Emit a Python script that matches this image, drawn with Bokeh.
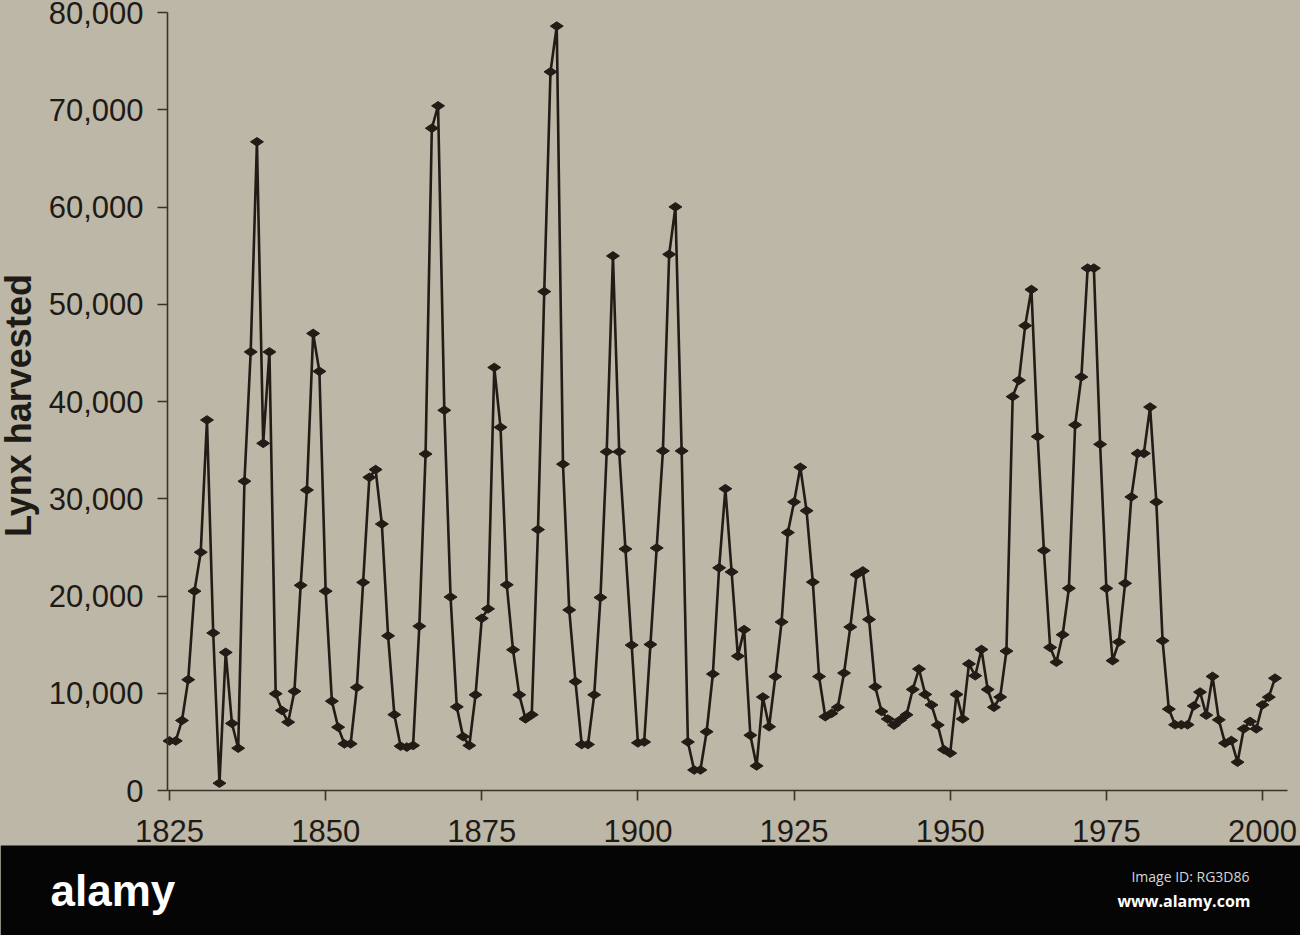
import numpy as np
from bokeh.plotting import figure
from bokeh.models import (FixedTicker, NumeralTickFormatter, Range1d, ColumnDataSource,
                          BasicTickFormatter, BoxAnnotation, Label)
from bokeh.embed import file_html
from bokeh.resources import INLINE

# ---------------- data ----------------
years = list(range(1825, 2003))
lynx_harvested = [
    5100, 5100, 7200, 11400, 20500, 24500, 38100, 16200, 750, 14200,      # 1825-1834
    6900, 4350, 31800, 45100, 66700, 35700, 45100, 9950, 8230, 7030,      # 1835-1844
    10200, 21100, 30900, 47000, 43100, 20500, 9190, 6510, 4800, 4800,     # 1845-1854
    10600, 21400, 32200, 33000, 27400, 15900, 7800, 4560, 4460, 4630,     # 1855-1864
    16900, 34600, 68100, 70400, 39100, 19900, 8600, 5540, 4630, 9840,     # 1865-1874
    17700, 18680, 43500, 37350, 21150, 14470, 9840, 7370, 7790, 26830,    # 1875-1884
    51300, 73900, 78600, 33560, 18570, 11200, 4730, 4730, 9840, 19850,    # 1885-1894
    34830, 54970, 34830, 24830, 14950, 4900, 4990, 15020, 24940, 34920,   # 1895-1904
    55130, 60010, 34920, 4990, 2110, 2110, 6040, 11980, 22900, 31030,     # 1905-1914
    22480, 13820, 16540, 5680, 2530, 9610, 6560, 11720, 17330, 26520,     # 1915-1924
    29670, 33240, 28770, 21430, 11720, 7590, 7930, 8560, 12080, 16810,    # 1925-1934
    22200, 22580, 17590, 10660, 8130, 7350, 6730, 7250, 7780, 10390,      # 1935-1944
    12500, 9880, 8800, 6730, 4200, 3840, 9880, 7360, 13020, 11800,        # 1945-1954
    14500, 10390, 8560, 9610, 14340, 40500, 42180, 47800, 51510, 36390,   # 1955-1964
    24680, 14710, 13190, 16020, 20790, 37590, 42530, 53710, 53710, 35600, # 1965-1974
    20790, 13350, 15270, 21300, 30190, 34660, 34660, 39430, 29670, 15400, # 1975-1984
    8370, 6760, 6760, 6760, 8700, 10120, 7750, 11730, 7270, 4870,         # 1985-1994
    5140, 2910, 6340, 7100, 6340, 8810, 9600, 11550,                      # 1995-2002
]
x_ticks = [1825, 1850, 1875, 1900, 1925, 1950, 1975, 2000]
y_ticks = [0, 10000, 20000, 30000, 40000, 50000, 60000, 70000, 80000]
y_label = "Lynx harvested"

BG = "#bdb7a7"
INK = "#221b16"
AX = "#38322b"
TXT = "#1e1a16"
FONT = "Liberation Sans"

# plot-area geometry (pixels) and the data span of the axes
W, H = 1300, 935
FL, FR, FT, FB = 167, 1287, 12, 790
X0, X1 = 1824.68, 2004.0
Y0, Y1 = 0, 80000


def dx(px):
    return X0 + (px - FL) * (X1 - X0) / (FR - FL)


def dy(py):
    return Y0 + (FB - py) * (Y1 - Y0) / (FB - FT)


src = ColumnDataSource(dict(year=years, lynx=lynx_harvested))

p = figure(width=W, height=H, output_backend="svg", toolbar_location=None,
           x_range=Range1d(dx(0), dx(W)), y_range=Range1d(dy(H), dy(0)),
           min_border=0, min_border_left=0, min_border_right=0, min_border_top=0, min_border_bottom=0,
           background_fill_color=BG, border_fill_color=BG, outline_line_color=None)
p.xgrid.visible = False
p.ygrid.visible = False

p.line("year", "lynx", source=src, line_width=2.6, line_color=INK)
p.scatter("year", "lynx", source=src, marker="diamond", size=13, angle=np.pi / 2,
          fill_color=INK, line_color=INK, line_width=1)

for ax in (p.xaxis[0], p.yaxis[0]):
    ax.axis_line_color = AX
    ax.axis_line_width = 1.6
    ax.major_tick_line_color = AX
    ax.major_tick_line_width = 1.6
    ax.major_tick_out = 10
    ax.major_tick_in = 0
    ax.minor_tick_line_color = None
    ax.major_label_text_font = FONT
    ax.major_label_text_font_size = "31px"
    ax.major_label_text_color = TXT

p.xaxis.fixed_location = Y0
p.xaxis.bounds = (X0, X1)
p.xaxis.ticker = FixedTicker(ticks=x_ticks)
p.xaxis.formatter = BasicTickFormatter(use_scientific=False)
p.xaxis.major_label_standoff = 19

p.yaxis.fixed_location = X0
p.yaxis.bounds = (Y0, Y1)
p.yaxis.ticker = FixedTicker(ticks=y_ticks)
p.yaxis.formatter = NumeralTickFormatter(format="0,0")
p.yaxis.major_label_standoff = 14

# y axis title (rotated)
p.add_layout(Label(x=dx(18), y=dy(405), text=y_label, angle=np.pi / 2,
                   text_align="center", text_baseline="alphabetic",
                   text_font=FONT, text_font_style="bold", text_font_size="36px",
                   text_color=TXT))

# ---------------- bottom band (stock-photo strip) ----------------
p.add_layout(BoxAnnotation(top=dy(845), fill_color="#050505", fill_alpha=1.0,
                           line_color=None, level="overlay"))
p.add_layout(Label(x=dx(50), y=dy(890), text="alamy", text_align="left",
                   text_baseline="alphabetic", text_font=FONT, text_font_style="bold",
                   text_font_size="44px", text_color="#ffffff", level="overlay"))
p.add_layout(Label(x=dx(1249), y=dy(876), text="Image ID: RG3D86", text_align="right",
                   text_baseline="alphabetic", text_font="Open Sans",
                   text_font_size="14px", text_color="#d6d6d6", level="overlay"))
p.add_layout(Label(x=dx(1250), y=dy(900), text="www.alamy.com", text_align="right",
                   text_baseline="alphabetic", text_font="Open Sans", text_font_style="bold",
                   text_font_size="16px", text_color="#ffffff", level="overlay"))

html = file_html(p, INLINE)
html = html.replace("<head>", "<head><style>html,body{margin:0;padding:0;background:%s;}</style>" % BG, 1)
open("out.html", "w").write(html)
